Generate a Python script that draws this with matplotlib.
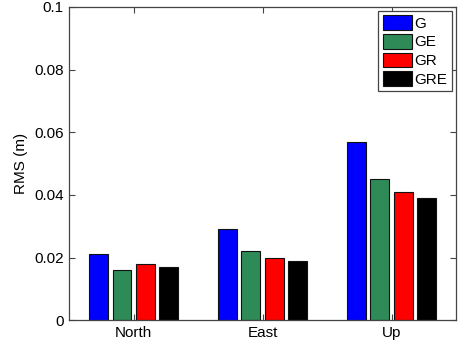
import matplotlib
matplotlib.use("Agg")
import matplotlib.pyplot as plt
import numpy as np

plt.rcParams['font.family'] = ['Liberation Sans', 'DejaVu Sans']

categories = ["North", "East", "Up"]
series_names = ["G", "GE", "GR", "GRE"]
g_vals = [0.021, 0.029, 0.057]
ge_vals = [0.016, 0.022, 0.045]
gr_vals = [0.018, 0.020, 0.041]
gre_vals = [0.017, 0.019, 0.039]
series_colors = ["#0000ff", "#2e8b57", "#ff0000", "#000000"]
yticks = [0, 0.02, 0.04, 0.06, 0.08, 0.1]
ytick_labels = ["0", "0.02", "0.04", "0.06", "0.08", "0.1"]

fig = plt.figure(figsize=(4.74, 3.48), dpi=100)
ax = fig.add_axes([0.146, 0.080, 0.816, 0.900])

x = np.arange(1, len(categories) + 1)
n = 4
group_w = min(0.8, n / (n + 1.5))
step = group_w / n
bar_w = 0.8 * step
for i, (vals, name, col) in enumerate(zip([g_vals, ge_vals, gr_vals, gre_vals], series_names, series_colors)):
    offs = (i - (n - 1) / 2) * step
    ax.bar(x + offs, vals, width=bar_w, color=col, edgecolor="#111111", linewidth=0.8, label=name)

ax.set_xlim(0.5, 3.5)
ax.set_ylim(0, 0.1)
ax.set_xticks(x)
ax.set_xticklabels(categories)
ax.set_yticks(yticks)
ax.set_yticklabels(ytick_labels)
ax.tick_params(direction="in", top=True, right=True, labelsize=11, length=4, color="#444444", pad=4)
for s in ax.spines.values():
    s.set_color("#444444")
    s.set_linewidth(0.9)
ax.set_ylabel("RMS (m)", fontsize=11, labelpad=4)

leg = ax.legend(loc="upper right", fontsize=11, handlelength=1.9, handleheight=1.1,
                borderpad=0.3, labelspacing=0.2, handletextpad=0.2,
                fancybox=False, framealpha=1, borderaxespad=0.25)
leg.get_frame().set_edgecolor("#444444")
leg.get_frame().set_linewidth(0.9)

fig.savefig("out.png", dpi=100)
